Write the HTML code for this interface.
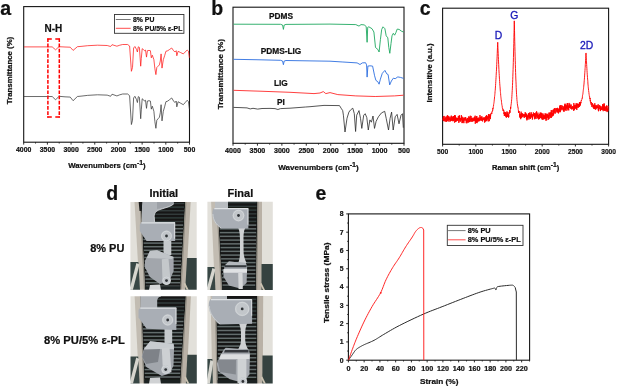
<!DOCTYPE html>
<html><head><meta charset="utf-8"><style>
html,body{margin:0;padding:0;background:#fff;}
body{width:617px;height:387px;overflow:hidden;}
svg{display:block;will-change:transform;}
text{font-family:"Liberation Sans",sans-serif;}
</style></head><body>
<svg width="617" height="387" viewBox="0 0 617 387">
<defs><filter id="soft" x="-10%" y="-10%" width="120%" height="120%"><feGaussianBlur stdDeviation="0.5"/></filter></defs>
<clipPath id="c1"><rect x="130.4" y="202" width="66.3" height="87.7"/></clipPath>
<g clip-path="url(#c1)"><g filter="url(#soft)">
<rect x="128.4" y="200" width="70.3" height="91.7" fill="#e2e0da"/>
<polygon points="140.1,200 185.9,200 180.8,291.7 144.7,291.7" fill="#131716"/>
<rect x="141.58" y="202.75" width="42.83" height="1.5" fill="#323a3a"/>
<rect x="141.76" y="206.35" width="42.45" height="1.5" fill="#323a3a"/>
<rect x="141.94" y="209.95" width="42.07" height="1.5" fill="#323a3a"/>
<rect x="142.12" y="213.55" width="41.69" height="1.5" fill="#323a3a"/>
<rect x="142.3" y="217.15" width="41.31" height="1.5" fill="#323a3a"/>
<rect x="142.48" y="220.75" width="40.93" height="1.5" fill="#323a3a"/>
<rect x="142.66" y="224.35" width="40.54" height="1.5" fill="#646c6c"/>
<rect x="142.84" y="227.95" width="40.16" height="1.5" fill="#646c6c"/>
<rect x="143.02" y="231.55" width="39.78" height="1.5" fill="#646c6c"/>
<rect x="143.2" y="235.15" width="39.4" height="1.5" fill="#646c6c"/>
<rect x="143.38" y="238.75" width="39.02" height="1.5" fill="#646c6c"/>
<rect x="143.56" y="242.35" width="38.64" height="1.5" fill="#646c6c"/>
<rect x="143.74" y="245.95" width="38.26" height="1.5" fill="#646c6c"/>
<rect x="143.92" y="249.55" width="37.88" height="1.5" fill="#646c6c"/>
<rect x="144.1" y="253.15" width="37.5" height="1.5" fill="#646c6c"/>
<rect x="144.28" y="256.75" width="37.12" height="1.5" fill="#646c6c"/>
<rect x="144.46" y="260.35" width="36.74" height="1.5" fill="#646c6c"/>
<rect x="144.65" y="263.95" width="36.36" height="1.5" fill="#646c6c"/>
<rect x="144.83" y="267.55" width="35.98" height="1.5" fill="#646c6c"/>
<rect x="145.01" y="271.15" width="35.59" height="1.5" fill="#646c6c"/>
<rect x="145.19" y="274.75" width="35.21" height="1.5" fill="#646c6c"/>
<rect x="145.37" y="278.35" width="34.83" height="1.5" fill="#646c6c"/>
<rect x="145.55" y="281.95" width="34.45" height="1.5" fill="#646c6c"/>
<rect x="145.73" y="285.55" width="34.07" height="1.5" fill="#646c6c"/>
<polygon points="134.4,200 140.6,200 145.2,291.7 139.6,291.7" fill="#c2bcb2"/>
<polygon points="139.5,200 140.6,200 145.2,291.7 144.1,291.7" fill="#8f8b82"/>
<polygon points="185.4,200 190.8,200 185.6,291.7 180.3,291.7" fill="#b9b1a6"/>
<polygon points="185.4,200 186.5,200 181.4,291.7 180.3,291.7" fill="#8e8a80"/>
<polygon points="128.4,262 138.42,262 140.1,291.7 128.4,291.7" fill="#394744"/>
<polygon points="136.42,263 139.42,264.5 132.9,289.7 129.4,289.7" fill="#d6d6cf"/>
<polygon points="187.01,258 198.7,258 198.7,291.7 185.1,291.7" fill="#34423f"/>
<polygon points="183.6,283.7 185.1,282.7 188.6,289.7 186.6,289.7" fill="#cbc3b2"/>
<rect x="145.2" y="286.2" width="35.1" height="4" fill="#1f2423"/>
<path d="M142 200 L173.6 200 L173.6 204 C171 206.5 166 207.5 160 209.5 C156 211 154.2 213 154.2 216.5 L154.6 222 L142 222 Z" fill="#b0b4b9"/>
<path d="M157 200 L173.6 200 L173.6 204 C171 206 166 207 160 208.5 L157 209 Z" fill="#9da1a7"/>
<path d="M173.6 204 C171 206.5 166 207.5 160 209.5 C156 211 154.2 213 154.2 216.5 L154.6 222" fill="none" stroke="#d0d3d6" stroke-width="0.9"/>
<path d="M138.5 200 L142.5 200 L141.5 211 L139.5 211 Z" fill="#1a1c1c"/>
<polygon points="163.5,238 171.3,238 171.3,255 163.5,255" fill="#c6cacd" />
<polygon points="149.9,250.9 157,250.3 173.6,256.9 173.6,271.1 170,279.4 160,284 149.9,277 144.5,266.4 145.1,260.4" fill="#a2a6ac" />
<polygon points="149.9,250.9 157,250.3 173.6,256.9 172,259 147,258" fill="#c0c4c8" />
<polygon points="161.8,259.3 168.5,258.5 170.5,280.6 162.5,281" fill="#c4c8cb" />
<circle cx="166.5" cy="280.6" r="4.4" fill="#c2c6ca"/><circle cx="166.5" cy="280.6" r="3.6" fill="none" stroke="#d6d9dc" stroke-width="0.8"/><circle cx="166.5" cy="280.6" r="1.4" fill="#2e3236"/>
<polygon points="150,285 160,284.5 161,290 149,290" fill="#d4d6d8" />
<polygon points="141.6,222.1 175.1,222.1 175.1,241 146.6,241 139.8,231 139.8,224.8" fill="#a9aeb5" /><path d="M141.5 222.8 L175 222.8" stroke="#dfe2e5" stroke-width="1.3"/><path d="M174.6 222.8 L174.6 238.8" stroke="#d4d7da" stroke-width="1.1"/>
<circle cx="166.5" cy="236" r="5.6" fill="#c2c6ca"/><circle cx="166.5" cy="236" r="4.8" fill="none" stroke="#d6d9dc" stroke-width="0.8"/><circle cx="166.5" cy="236" r="1.4" fill="#2e3236"/>
</g></g>
<clipPath id="c3"><rect x="130.5" y="296.3" width="66.3" height="87.1"/></clipPath>
<g clip-path="url(#c3)"><g filter="url(#soft)">
<rect x="128.5" y="294.3" width="70.3" height="91.1" fill="#e2e0da"/>
<polygon points="140.5,294.3 186.5,294.3 180.8,385.4 143.8,385.4" fill="#131716"/>
<rect x="141.98" y="298.55" width="42.91" height="1.5" fill="#323a3a"/>
<rect x="142.12" y="302.25" width="42.54" height="1.5" fill="#323a3a"/>
<rect x="142.25" y="305.95" width="42.17" height="1.5" fill="#323a3a"/>
<rect x="142.38" y="309.65" width="41.81" height="1.5" fill="#323a3a"/>
<rect x="142.52" y="313.35" width="41.44" height="1.5" fill="#323a3a"/>
<rect x="142.65" y="317.05" width="41.08" height="1.5" fill="#323a3a"/>
<rect x="142.79" y="320.75" width="40.71" height="1.5" fill="#646c6c"/>
<rect x="142.92" y="324.45" width="40.35" height="1.5" fill="#646c6c"/>
<rect x="143.05" y="328.15" width="39.98" height="1.5" fill="#646c6c"/>
<rect x="143.19" y="331.85" width="39.62" height="1.5" fill="#646c6c"/>
<rect x="143.32" y="335.55" width="39.25" height="1.5" fill="#646c6c"/>
<rect x="143.46" y="339.25" width="38.89" height="1.5" fill="#646c6c"/>
<rect x="143.59" y="342.95" width="38.52" height="1.5" fill="#646c6c"/>
<rect x="143.72" y="346.65" width="38.15" height="1.5" fill="#646c6c"/>
<rect x="143.86" y="350.35" width="37.79" height="1.5" fill="#646c6c"/>
<rect x="143.99" y="354.05" width="37.42" height="1.5" fill="#646c6c"/>
<rect x="144.13" y="357.75" width="37.06" height="1.5" fill="#646c6c"/>
<rect x="144.26" y="361.45" width="36.69" height="1.5" fill="#646c6c"/>
<rect x="144.39" y="365.15" width="36.33" height="1.5" fill="#646c6c"/>
<rect x="144.53" y="368.85" width="35.96" height="1.5" fill="#646c6c"/>
<rect x="144.66" y="372.55" width="35.6" height="1.5" fill="#646c6c"/>
<rect x="144.8" y="376.25" width="35.23" height="1.5" fill="#646c6c"/>
<rect x="144.93" y="379.95" width="34.86" height="1.5" fill="#646c6c"/>
<polygon points="134.5,294.3 141,294.3 144.3,385.4 139.2,385.4" fill="#c2bcb2"/>
<polygon points="139.9,294.3 141,294.3 144.3,385.4 143.2,385.4" fill="#8f8b82"/>
<polygon points="186,294.3 191,294.3 186.3,385.4 180.3,385.4" fill="#b9b1a6"/>
<polygon points="186,294.3 187.1,294.3 181.4,385.4 180.3,385.4" fill="#8e8a80"/>
<polygon points="128.5,356.6 138.21,356.6 139.7,385.4 128.5,385.4" fill="#394744"/>
<polygon points="136.21,357.6 139.21,359.1 133,383.4 129.5,383.4" fill="#d6d6cf"/>
<polygon points="187.38,354.7 198.8,354.7 198.8,385.4 185.8,385.4" fill="#34423f"/>
<polygon points="184.3,377.4 185.8,376.4 189.3,383.4 187.3,383.4" fill="#cbc3b2"/>
<rect x="144.3" y="379.9" width="36" height="4" fill="#1f2423"/>
<path d="M140.5 294 L161 294 L161 296.5 Q157.5 297 157.2 300.5 L157.2 309 L140.5 309 Z" fill="#b0b4b9"/>
<polygon points="164.5,326 172.2,326 172.2,343 164.5,343" fill="#c6cacd" />
<polygon points="150.2,341.2 173.5,343.8 174.1,346.3 173.5,365.7 169.6,373.5 161.8,376 146.3,367 141.8,356.7 143.8,348.9" fill="#a2a6ac" />
<polygon points="144,350 160,349 158,362 146,364 142.3,357" fill="#7e8288" />
<polygon points="150.2,341.2 173.5,343.8 174,349 144,349" fill="#c8ccd0" />
<polygon points="161.8,348.3 169.5,347.5 171.5,372.2 163,373" fill="#cdd0d3" />
<circle cx="165.7" cy="369.6" r="4.5" fill="#c2c6ca"/><circle cx="165.7" cy="369.6" r="3.7" fill="none" stroke="#d6d9dc" stroke-width="0.8"/><circle cx="165.7" cy="369.6" r="1.4" fill="#2e3236"/>
<polygon points="150,378 160,377.5 161,384 149,384" fill="#d0d2d4" />
<polygon points="140.4,307.4 176.4,307.4 176.4,330 146.6,328.7 138.5,317.6 138.5,310.1" fill="#a9aeb5" /><path d="M140.3 308.1 L176.2 308.1" stroke="#dfe2e5" stroke-width="1.3"/><path d="M175.9 308.1 L175.9 324.1" stroke="#d4d7da" stroke-width="1.1"/>
<circle cx="167.7" cy="320" r="5.7" fill="#c2c6ca"/><circle cx="167.7" cy="320" r="4.9" fill="none" stroke="#d6d9dc" stroke-width="0.8"/><circle cx="167.7" cy="320" r="1.4" fill="#2e3236"/>
</g></g>
<clipPath id="c2"><rect x="207.4" y="201.7" width="65.4" height="88.3"/></clipPath>
<g clip-path="url(#c2)"><g filter="url(#soft)">
<rect x="205.4" y="199.7" width="69.4" height="92.3" fill="#e2e0da"/>
<polygon points="216.8,199.7 258,199.7 256.5,292 221.5,292" fill="#131716"/>
<rect x="218.25" y="201.85" width="38.41" height="1.5" fill="#323a3a"/>
<rect x="218.44" y="205.6" width="38.15" height="1.5" fill="#323a3a"/>
<rect x="218.63" y="209.35" width="37.9" height="1.5" fill="#323a3a"/>
<rect x="218.82" y="213.1" width="37.65" height="1.5" fill="#323a3a"/>
<rect x="219.01" y="216.85" width="37.4" height="1.5" fill="#323a3a"/>
<rect x="219.2" y="220.6" width="37.15" height="1.5" fill="#323a3a"/>
<rect x="219.39" y="224.35" width="36.89" height="1.5" fill="#646c6c"/>
<rect x="219.58" y="228.1" width="36.64" height="1.5" fill="#646c6c"/>
<rect x="219.78" y="231.85" width="36.39" height="1.5" fill="#646c6c"/>
<rect x="219.97" y="235.6" width="36.14" height="1.5" fill="#646c6c"/>
<rect x="220.16" y="239.35" width="35.89" height="1.5" fill="#646c6c"/>
<rect x="220.35" y="243.1" width="35.63" height="1.5" fill="#646c6c"/>
<rect x="220.54" y="246.85" width="35.38" height="1.5" fill="#646c6c"/>
<rect x="220.73" y="250.6" width="35.13" height="1.5" fill="#646c6c"/>
<rect x="220.92" y="254.35" width="34.88" height="1.5" fill="#646c6c"/>
<rect x="221.11" y="258.1" width="34.63" height="1.5" fill="#646c6c"/>
<rect x="221.3" y="261.85" width="34.37" height="1.5" fill="#646c6c"/>
<rect x="221.49" y="265.6" width="34.12" height="1.5" fill="#646c6c"/>
<rect x="221.68" y="269.35" width="33.87" height="1.5" fill="#646c6c"/>
<rect x="221.88" y="273.1" width="33.62" height="1.5" fill="#646c6c"/>
<rect x="222.07" y="276.85" width="33.37" height="1.5" fill="#646c6c"/>
<rect x="222.26" y="280.6" width="33.12" height="1.5" fill="#646c6c"/>
<rect x="222.45" y="284.35" width="32.86" height="1.5" fill="#646c6c"/>
<rect x="222.64" y="288.1" width="32.61" height="1.5" fill="#646c6c"/>
<polygon points="211,199.7 217.3,199.7 222,292 215,292" fill="#c2bcb2"/>
<polygon points="216.2,199.7 217.3,199.7 222,292 220.9,292" fill="#8f8b82"/>
<polygon points="257.5,199.7 262,199.7 262,292 256,292" fill="#b9b1a6"/>
<polygon points="257.5,199.7 258.6,199.7 257.1,292 256,292" fill="#8e8a80"/>
<polygon points="205.4,267 214.42,267 215.5,292 205.4,292" fill="#394744"/>
<polygon points="212.42,268 215.42,269.5 209.9,290 206.4,290" fill="#d6d6cf"/>
<polygon points="261.5,264 274.8,264 274.8,292 261.5,292" fill="#34423f"/>
<polygon points="260,284 261.5,283 265,290 263,290" fill="#cbc3b2"/>
<rect x="222" y="286.5" width="34" height="4" fill="#1f2423"/>
<polygon points="215,199 228,199 228,208 215,208" fill="#b9bdc1" />
<path d="M238.3 228 L245.2 228 C243.8 231 243.5 234 243.5 240 L243.6 252 C243.8 257 245 259.5 246.5 263 L238.3 263 C239.5 259.5 240 257 240 252 L240 240 C240 234 239.5 231 238.3 228 Z" fill="#cfd1d3"/>
<polygon points="228.9,261.5 245.7,262.9 247.1,267.1 246.6,282.9 240.1,288.5 228.9,285.5 223.4,276.4 224.3,267.1" fill="#a4a8ae" />
<polygon points="228.9,261.5 245.7,262.9 246.5,265 225,265" fill="#b4b8bd" />
<polygon points="225,265.2 246.5,265.2 246.5,267.3 224.5,267.3" fill="#34383c" />
<polygon points="223.5,269 247,269 247,272.7 223.2,272.7" fill="#dfe1e3" />
<polygon points="238.2,272.7 242.5,272.7 242.8,289 238.6,289" fill="#d6d8da" />
<path d="M214.3 208 L248.4 208 L248.4 228.5 L221.1 228.5 C216 225 212.6 220 212.4 214 C212.4 210.5 213 208.5 214.3 208 Z" fill="#a9aeb5"/>
<path d="M214.3 208.7 L248.2 208.7" stroke="#dfe2e5" stroke-width="1.3"/><path d="M247.9 208.7 L247.9 224.7" stroke="#d4d7da" stroke-width="1.1"/>
<path d="M221.1 228 C216 224.5 213 220 212.9 214" fill="none" stroke="#cfd2d5" stroke-width="0.9"/>
<circle cx="238.5" cy="215.5" r="6" fill="#c2c6ca"/><circle cx="238.5" cy="215.5" r="5.2" fill="none" stroke="#d6d9dc" stroke-width="0.8"/><circle cx="238.5" cy="215.5" r="1.4" fill="#2e3236"/>
</g></g>
<clipPath id="c4"><rect x="207.4" y="296" width="65.3" height="87.4"/></clipPath>
<g clip-path="url(#c4)"><g filter="url(#soft)">
<rect x="205.4" y="294" width="69.3" height="91.4" fill="#e2e0da"/>
<polygon points="215.3,294 257.7,294 257.6,385.4 217.1,385.4" fill="#131716"/>
<rect x="216.7" y="298.55" width="39.69" height="1.5" fill="#323a3a"/>
<rect x="216.78" y="302.45" width="39.61" height="1.5" fill="#323a3a"/>
<rect x="216.86" y="306.35" width="39.53" height="1.5" fill="#323a3a"/>
<rect x="216.93" y="310.25" width="39.45" height="1.5" fill="#323a3a"/>
<rect x="217.01" y="314.15" width="39.37" height="1.5" fill="#323a3a"/>
<rect x="217.09" y="318.05" width="39.28" height="1.5" fill="#646c6c"/>
<rect x="217.17" y="321.95" width="39.2" height="1.5" fill="#646c6c"/>
<rect x="217.24" y="325.85" width="39.12" height="1.5" fill="#646c6c"/>
<rect x="217.32" y="329.75" width="39.04" height="1.5" fill="#646c6c"/>
<rect x="217.4" y="333.65" width="38.96" height="1.5" fill="#646c6c"/>
<rect x="217.47" y="337.55" width="38.88" height="1.5" fill="#646c6c"/>
<rect x="217.55" y="341.45" width="38.8" height="1.5" fill="#646c6c"/>
<rect x="217.63" y="345.35" width="38.72" height="1.5" fill="#646c6c"/>
<rect x="217.7" y="349.25" width="38.64" height="1.5" fill="#646c6c"/>
<rect x="217.78" y="353.15" width="38.55" height="1.5" fill="#646c6c"/>
<rect x="217.86" y="357.05" width="38.47" height="1.5" fill="#646c6c"/>
<rect x="217.93" y="360.95" width="38.39" height="1.5" fill="#646c6c"/>
<rect x="218.01" y="364.85" width="38.31" height="1.5" fill="#646c6c"/>
<rect x="218.09" y="368.75" width="38.23" height="1.5" fill="#646c6c"/>
<rect x="218.16" y="372.65" width="38.15" height="1.5" fill="#646c6c"/>
<rect x="218.24" y="376.55" width="38.07" height="1.5" fill="#646c6c"/>
<rect x="218.32" y="380.45" width="37.99" height="1.5" fill="#646c6c"/>
<polygon points="210.5,294 215.8,294 217.6,385.4 212.4,385.4" fill="#c2bcb2"/>
<polygon points="214.7,294 215.8,294 217.6,385.4 216.5,385.4" fill="#8f8b82"/>
<polygon points="257.2,294 263.2,294 262.8,385.4 257.1,385.4" fill="#b9b1a6"/>
<polygon points="257.2,294 258.3,294 258.2,385.4 257.1,385.4" fill="#8e8a80"/>
<polygon points="205.4,359.1 212.35,359.1 212.9,385.4 205.4,385.4" fill="#394744"/>
<polygon points="210.35,360.1 213.35,361.6 209.9,383.4 206.4,383.4" fill="#d6d6cf"/>
<polygon points="262.43,355.4 274.7,355.4 274.7,385.4 262.3,385.4" fill="#34423f"/>
<polygon points="260.8,377.4 262.3,376.4 265.8,383.4 263.8,383.4" fill="#cbc3b2"/>
<rect x="217.6" y="379.9" width="39.5" height="4" fill="#1f2423"/>
<polygon points="212,294 227,294 227,300 212,300" fill="#b9bdc1" />
<path d="M238.8 323 L247.3 323 C245.6 327 245.2 330 245.2 334 L245.2 340 C245.4 344 246.5 346.5 248.2 349.5 L238 349.5 C239.8 346.5 241 344 241 340 L241 334 C241 330 240.5 327 238.8 323 Z" fill="#cfd1d3"/>
<polygon points="225.7,347.7 248.8,349.5 250,354.3 249.4,374.4 242.9,382.8 229.8,379.2 217.9,370.9 216.8,363.8 219.1,357.8 223.9,349.5" fill="#a4a8ae" />
<polygon points="217.5,360 236,360 235.8,374.4 220,372" fill="#84888e" />
<polygon points="225,350 248.5,350 248.5,352.5 224,352.5" fill="#34383c" />
<polygon points="221,354.3 249.5,354.3 249.5,359 219.5,359" fill="#dcdee0" />
<polygon points="237.5,359 246.4,359 246.4,383 237.5,383" fill="#cfd2d4" />
<circle cx="242.9" cy="381.5" r="4.3" fill="#c2c6ca"/><circle cx="242.9" cy="381.5" r="3.5" fill="none" stroke="#d6d9dc" stroke-width="0.8"/><circle cx="242.9" cy="381.5" r="1.4" fill="#2e3236"/>
<path d="M211.2 299 L252.1 299 L252.1 323.8 L219.9 324.4 C214 320 209 313 208.7 306 C208.7 302 209.5 299.5 211.2 299 Z" fill="#a9aeb5"/>
<path d="M211 299.7 L251.9 299.7" stroke="#dfe2e5" stroke-width="1.3"/><path d="M251.6 299.7 L251.6 315.7" stroke="#d4d7da" stroke-width="1.1"/>
<path d="M219.9 323.9 C214 319.5 209.5 313 209.2 306" fill="none" stroke="#cfd2d5" stroke-width="0.9"/>
<circle cx="242.2" cy="308.9" r="7.3" fill="#c2c6ca"/><circle cx="242.2" cy="308.9" r="6.5" fill="none" stroke="#d6d9dc" stroke-width="0.8"/><circle cx="242.2" cy="308.9" r="1.4" fill="#2e3236"/>
</g></g>
<rect x="23.7" y="6.6" width="165.8" height="135.6" fill="none" stroke="#151515" stroke-width="1.1"/>
<line x1="23.7" y1="142.2" x2="23.7" y2="144.6" stroke="#151515" stroke-width="0.9"/>
<text transform="translate(23.7 152.4)" font-size="6.9" font-weight="bold" text-anchor="middle" fill="#111"  stroke="#111" stroke-width="0.22">4000</text>
<line x1="35.54" y1="142.2" x2="35.54" y2="143.6" stroke="#151515" stroke-width="0.8"/>
<line x1="47.39" y1="142.2" x2="47.39" y2="144.6" stroke="#151515" stroke-width="0.9"/>
<text transform="translate(47.39 152.4)" font-size="6.9" font-weight="bold" text-anchor="middle" fill="#111"  stroke="#111" stroke-width="0.22">3500</text>
<line x1="59.23" y1="142.2" x2="59.23" y2="143.6" stroke="#151515" stroke-width="0.8"/>
<line x1="71.07" y1="142.2" x2="71.07" y2="144.6" stroke="#151515" stroke-width="0.9"/>
<text transform="translate(71.07 152.4)" font-size="6.9" font-weight="bold" text-anchor="middle" fill="#111"  stroke="#111" stroke-width="0.22">3000</text>
<line x1="82.91" y1="142.2" x2="82.91" y2="143.6" stroke="#151515" stroke-width="0.8"/>
<line x1="94.76" y1="142.2" x2="94.76" y2="144.6" stroke="#151515" stroke-width="0.9"/>
<text transform="translate(94.76 152.4)" font-size="6.9" font-weight="bold" text-anchor="middle" fill="#111"  stroke="#111" stroke-width="0.22">2500</text>
<line x1="106.6" y1="142.2" x2="106.6" y2="143.6" stroke="#151515" stroke-width="0.8"/>
<line x1="118.44" y1="142.2" x2="118.44" y2="144.6" stroke="#151515" stroke-width="0.9"/>
<text transform="translate(118.44 152.4)" font-size="6.9" font-weight="bold" text-anchor="middle" fill="#111"  stroke="#111" stroke-width="0.22">2000</text>
<line x1="130.29" y1="142.2" x2="130.29" y2="143.6" stroke="#151515" stroke-width="0.8"/>
<line x1="142.13" y1="142.2" x2="142.13" y2="144.6" stroke="#151515" stroke-width="0.9"/>
<text transform="translate(142.13 152.4)" font-size="6.9" font-weight="bold" text-anchor="middle" fill="#111"  stroke="#111" stroke-width="0.22">1500</text>
<line x1="153.97" y1="142.2" x2="153.97" y2="143.6" stroke="#151515" stroke-width="0.8"/>
<line x1="165.81" y1="142.2" x2="165.81" y2="144.6" stroke="#151515" stroke-width="0.9"/>
<text transform="translate(165.81 152.4)" font-size="6.9" font-weight="bold" text-anchor="middle" fill="#111"  stroke="#111" stroke-width="0.22">1000</text>
<line x1="177.66" y1="142.2" x2="177.66" y2="143.6" stroke="#151515" stroke-width="0.8"/>
<line x1="189.5" y1="142.2" x2="189.5" y2="144.6" stroke="#151515" stroke-width="0.9"/>
<text transform="translate(189.5 152.4)" font-size="6.9" font-weight="bold" text-anchor="middle" fill="#111"  stroke="#111" stroke-width="0.22">500</text>
<text transform="translate(106.9 167.8) scale(1.05 1)" font-size="7.4" font-weight="bold" text-anchor="middle" fill="#111"  stroke="#111" stroke-width="0.22">Wavenumbers (cm<tspan font-size="6.6" dy="-3.2">-1</tspan><tspan dy="3.2">)</tspan></text>
<text transform="translate(12.4 70.5) rotate(-90) scale(1.06 1)" font-size="7.4" font-weight="bold" text-anchor="middle" fill="#111"  stroke="#111" stroke-width="0.22">Transmittance (%)</text>
<path d="M24 96.52 L35 96.52 L45 96.52 L52.2 96.52 L55.6 99.83 L59 96.3 L65 96.84 L70.2 97.07 L73.1 100.71 L77.4 96.5 L82 96.04 L87.7 95.36 L97.5 94.79 L107.2 95.13 L110.6 96.27 L112 94.22 L116.9 95.93 L119.8 94.79 L122.7 93.99 L127.6 93.99 L129.6 95.7 L131.4 124.54 L132.5 120.21 L133.6 97.98 L134.9 96.27 L136.5 99.57 L137.4 102.54 L138.3 96.61 L139.4 97.29 L140.7 118.73 L141.3 109.83 L142.2 98.78 L143.3 99.57 L144.5 101.06 L145.5 100.26 L146.5 108.35 L147.4 101.06 L149 100.71 L150.4 101.06 L151.3 109.15 L152.3 106.19 L153.9 111.32 L154.9 121.69 L155.9 128.3 L156.8 120.21 L158.1 118.73 L159.4 117.24 L160.3 112.8 L161.1 104.7 L162 120.89 L163.3 111.32 L164.6 106.87 L165.9 101.74 L167.8 101.06 L169.7 99.57 L171.7 97.98 L173.6 101.06 L174.9 102.54 L176.2 101.06 L176.8 106.87 L178.1 101.74 L180.7 103.22 L183.3 104.7 L185.2 102.54 L187.2 100.26 L188.5 101.74 L189.4 109.15" fill="none" stroke="#3a3a3a" stroke-width="0.75" stroke-linejoin="round" />
<path d="M24 46.9 L35 46.9 L45 46.9 L52.2 46.9 L55.6 49.8 L59 46.7 L65 47 L70.2 47.2 L73.1 50.4 L77.4 46.7 L82 46.3 L87.7 45.7 L97.5 45.2 L107.2 45.5 L110.6 46.5 L112 44.7 L116.9 46.2 L119.8 45.2 L122.7 44.5 L127.6 44.5 L129.6 46 L131.4 71.3 L132.5 67.5 L133.6 48 L134.9 46.5 L136.5 49.4 L137.4 52 L138.3 46.8 L139.4 47.4 L140.7 66.2 L141.3 58.4 L142.2 48.7 L143.3 49.4 L144.5 50.7 L145.5 50 L146.5 57.1 L147.4 50.7 L149 50.4 L150.4 50.7 L151.3 57.8 L152.3 55.2 L153.9 59.7 L154.9 68.8 L155.9 74.6 L156.8 67.5 L158.1 66.2 L159.4 64.9 L160.3 61 L161.1 53.9 L162 68.1 L163.3 59.7 L164.6 55.8 L165.9 51.3 L167.8 50.7 L169.7 49.4 L171.7 48 L173.6 50.7 L174.9 52 L176.2 50.7 L176.8 55.8 L178.1 51.3 L180.7 52.6 L183.3 53.9 L185.2 52 L187.2 50 L188.5 51.3 L189.4 57.8" fill="none" stroke="#ff1a1a" stroke-width="0.75" stroke-linejoin="round" />
<rect x="114.5" y="14.5" width="69.4" height="18.8" fill="none" stroke="#333" stroke-width="0.9"/>
<line x1="115.8" y1="19.5" x2="130.7" y2="19.5" stroke="#555" stroke-width="0.8"/>
<line x1="115.8" y1="28.3" x2="130.7" y2="28.3" stroke="#ff2020" stroke-width="0.8"/>
<text transform="translate(133 22.4) scale(0.94 1)" font-size="7.3" font-weight="bold" text-anchor="start" fill="#111"  stroke="#111" stroke-width="0.22">8% PU</text>
<text transform="translate(133 31.2) scale(0.94 1)" font-size="7.3" font-weight="bold" text-anchor="start" fill="#111"  stroke="#111" stroke-width="0.22">8% PU/5% &#949;-PL</text>
<text transform="translate(53.4 31.8) scale(0.97 1)" font-size="10.3" font-weight="bold" text-anchor="middle" fill="#111"  stroke="#111" stroke-width="0.22">N-H</text>
<line x1="47.2" y1="39.1" x2="60" y2="39.1" stroke="#ff0000" stroke-width="1.5" stroke-dasharray="4.6 3.5"/>
<line x1="47.2" y1="116.9" x2="60" y2="116.9" stroke="#ff0000" stroke-width="1.5" stroke-dasharray="4.6 3.5"/>
<line x1="47.9" y1="38.4" x2="47.9" y2="117.6" stroke="#ff0000" stroke-width="1.5" stroke-dasharray="3.7 1.5"/>
<line x1="59.3" y1="38.4" x2="59.3" y2="117.6" stroke="#ff0000" stroke-width="1.5" stroke-dasharray="3.7 1.5"/>
<rect x="233" y="7.2" width="171" height="136.1" fill="none" stroke="#151515" stroke-width="1.1"/>
<line x1="233" y1="143.3" x2="233" y2="145.7" stroke="#151515" stroke-width="0.9"/>
<text transform="translate(233 153.1)" font-size="7.1" font-weight="bold" text-anchor="middle" fill="#111"  stroke="#111" stroke-width="0.22">4000</text>
<line x1="245.21" y1="143.3" x2="245.21" y2="144.7" stroke="#151515" stroke-width="0.8"/>
<line x1="257.43" y1="143.3" x2="257.43" y2="145.7" stroke="#151515" stroke-width="0.9"/>
<text transform="translate(257.43 153.1)" font-size="7.1" font-weight="bold" text-anchor="middle" fill="#111"  stroke="#111" stroke-width="0.22">3500</text>
<line x1="269.64" y1="143.3" x2="269.64" y2="144.7" stroke="#151515" stroke-width="0.8"/>
<line x1="281.86" y1="143.3" x2="281.86" y2="145.7" stroke="#151515" stroke-width="0.9"/>
<text transform="translate(281.86 153.1)" font-size="7.1" font-weight="bold" text-anchor="middle" fill="#111"  stroke="#111" stroke-width="0.22">3000</text>
<line x1="294.07" y1="143.3" x2="294.07" y2="144.7" stroke="#151515" stroke-width="0.8"/>
<line x1="306.29" y1="143.3" x2="306.29" y2="145.7" stroke="#151515" stroke-width="0.9"/>
<text transform="translate(306.29 153.1)" font-size="7.1" font-weight="bold" text-anchor="middle" fill="#111"  stroke="#111" stroke-width="0.22">2500</text>
<line x1="318.5" y1="143.3" x2="318.5" y2="144.7" stroke="#151515" stroke-width="0.8"/>
<line x1="330.71" y1="143.3" x2="330.71" y2="145.7" stroke="#151515" stroke-width="0.9"/>
<text transform="translate(330.71 153.1)" font-size="7.1" font-weight="bold" text-anchor="middle" fill="#111"  stroke="#111" stroke-width="0.22">2000</text>
<line x1="342.93" y1="143.3" x2="342.93" y2="144.7" stroke="#151515" stroke-width="0.8"/>
<line x1="355.14" y1="143.3" x2="355.14" y2="145.7" stroke="#151515" stroke-width="0.9"/>
<text transform="translate(355.14 153.1)" font-size="7.1" font-weight="bold" text-anchor="middle" fill="#111"  stroke="#111" stroke-width="0.22">1500</text>
<line x1="367.36" y1="143.3" x2="367.36" y2="144.7" stroke="#151515" stroke-width="0.8"/>
<line x1="379.57" y1="143.3" x2="379.57" y2="145.7" stroke="#151515" stroke-width="0.9"/>
<text transform="translate(379.57 153.1)" font-size="7.1" font-weight="bold" text-anchor="middle" fill="#111"  stroke="#111" stroke-width="0.22">1000</text>
<line x1="391.79" y1="143.3" x2="391.79" y2="144.7" stroke="#151515" stroke-width="0.8"/>
<line x1="404" y1="143.3" x2="404" y2="145.7" stroke="#151515" stroke-width="0.9"/>
<text transform="translate(404 153.1)" font-size="7.1" font-weight="bold" text-anchor="middle" fill="#111"  stroke="#111" stroke-width="0.22">500</text>
<text transform="translate(318.5 169.8) scale(1.05 1)" font-size="7.7" font-weight="bold" text-anchor="middle" fill="#111"  stroke="#111" stroke-width="0.22">Wavenumbers (cm<tspan font-size="6.8" dy="-3.3">-1</tspan><tspan dy="3.3">)</tspan></text>
<text transform="translate(222.5 74.2) rotate(-90) scale(1.06 1)" font-size="7.7" font-weight="bold" text-anchor="middle" fill="#111"  stroke="#111" stroke-width="0.22">Transmittance (%)</text>
<path d="M233.5 107.4 L240 107.6 L247 107.9 L250.2 108.9 L253 108.3 L257.7 109.1 L262 108.5 L270 108.4 L275 108.6 L277.9 109.5 L280.5 108.6 L290 108.2 L305.6 107 L310 106.7 L324 105.4 L339.5 105.6 L341.1 108.2 L342.7 110.6 L343.4 115.2 L345 132 L347 118.3 L348.9 112.1 L350.7 109.8 L352.8 108.2 L354.3 113.7 L355.6 131.5 L356.7 115.2 L359 110.6 L360.5 118.3 L361.8 128.4 L363.7 115.2 L365.2 113.7 L366.8 117.6 L368.3 130 L369.9 119.9 L371.4 122.2 L373 116 L374.5 128.4 L376.1 121.4 L378.4 116.8 L381.5 112.9 L384.7 111.3 L386.2 118.3 L388.5 130 L390.1 118.3 L391.6 112.1 L393.2 130 L395.2 116.8 L397.1 114.4 L399 123.8 L401 115.2 L402.5 113.7 L403.3 127.7" fill="none" stroke="#2a2a2a" stroke-width="0.8" stroke-linejoin="round" />
<path d="M233.5 90.3 L260 91.2 L290 92.3 L314 93.6 L320 93 L323.3 91.6 L325.8 93.6 L330 92.6 L337.8 94.6 L355.8 95.9 L375.2 96.5 L394.6 95.9 L403.6 95.2" fill="none" stroke="#ff2a2a" stroke-width="0.9" stroke-linejoin="round" />
<path d="M233.5 59.3 L260 59.8 L280.5 60.3 L282.6 61 L283.4 64.7 L284.2 61 L286 60.5 L330 61.2 L342.9 62 L357.1 62.9 L360 64.5 L362.3 62.9 L365.5 62.7 L366.6 64.9 L367.1 77.1 L367.9 66.1 L370 65.8 L372.6 66.1 L374.6 75.8 L375.9 80.4 L377.8 81.7 L379.1 84.2 L380.4 79.1 L382.3 73.3 L384.9 70.4 L386.8 73.9 L388.1 74.5 L389.7 84.9 L391.4 81 L393.3 78.2 L395.2 78.7 L397.8 76.9 L400.4 77.4 L403.6 78.4" fill="none" stroke="#2c6ee0" stroke-width="0.9" stroke-linejoin="round" />
<path d="M233.5 24.2 L280.5 24.3 L282.6 25 L283.4 29.4 L284.2 25 L286 24.4 L330 24.1 L355.8 24.6 L359 26.1 L361 24.6 L364.2 24.9 L366.2 26.5 L367.1 42.3 L367.7 27.4 L368.8 26.8 L372 28.7 L373.9 32 L375.5 47.5 L377.8 49.4 L379.1 52 L380.4 39.7 L381.7 29.4 L383 26.8 L384.9 28.7 L386.2 35.8 L387.8 37.8 L388.8 47.5 L389.8 53.3 L391 43.6 L392 35.8 L393.3 33.3 L394.6 35.2 L395.9 32.6 L397.2 29.1 L399.1 29.4 L401.7 31.3 L403.6 32" fill="none" stroke="#1fa860" stroke-width="0.9" stroke-linejoin="round" />
<text transform="translate(281 19.3)" font-size="8.3" font-weight="bold" text-anchor="middle" fill="#111"  stroke="#111" stroke-width="0.22">PDMS</text>
<text transform="translate(281 54.1)" font-size="8.3" font-weight="bold" text-anchor="middle" fill="#111"  stroke="#111" stroke-width="0.22">PDMS-LIG</text>
<text transform="translate(280.8 86.4)" font-size="8.3" font-weight="bold" text-anchor="middle" fill="#111"  stroke="#111" stroke-width="0.22">LIG</text>
<text transform="translate(280.8 105.4)" font-size="8.3" font-weight="bold" text-anchor="middle" fill="#111"  stroke="#111" stroke-width="0.22">PI</text>
<rect x="442.6" y="8.2" width="166" height="136.1" fill="none" stroke="#151515" stroke-width="1.1"/>
<line x1="442.6" y1="144.3" x2="442.6" y2="146.5" stroke="#151515" stroke-width="0.9"/>
<text transform="translate(442.6 154.2) scale(1.03 1)" font-size="6.5" font-weight="bold" text-anchor="middle" fill="#111"  stroke="#111" stroke-width="0.16">500</text>
<line x1="459.2" y1="144.3" x2="459.2" y2="145.6" stroke="#151515" stroke-width="0.8"/>
<line x1="475.8" y1="144.3" x2="475.8" y2="146.5" stroke="#151515" stroke-width="0.9"/>
<text transform="translate(475.8 154.2) scale(1.03 1)" font-size="6.5" font-weight="bold" text-anchor="middle" fill="#111"  stroke="#111" stroke-width="0.16">1000</text>
<line x1="492.4" y1="144.3" x2="492.4" y2="145.6" stroke="#151515" stroke-width="0.8"/>
<line x1="509" y1="144.3" x2="509" y2="146.5" stroke="#151515" stroke-width="0.9"/>
<text transform="translate(509 154.2) scale(1.03 1)" font-size="6.5" font-weight="bold" text-anchor="middle" fill="#111"  stroke="#111" stroke-width="0.16">1500</text>
<line x1="525.6" y1="144.3" x2="525.6" y2="145.6" stroke="#151515" stroke-width="0.8"/>
<line x1="542.2" y1="144.3" x2="542.2" y2="146.5" stroke="#151515" stroke-width="0.9"/>
<text transform="translate(542.2 154.2) scale(1.03 1)" font-size="6.5" font-weight="bold" text-anchor="middle" fill="#111"  stroke="#111" stroke-width="0.16">2000</text>
<line x1="558.8" y1="144.3" x2="558.8" y2="145.6" stroke="#151515" stroke-width="0.8"/>
<line x1="575.4" y1="144.3" x2="575.4" y2="146.5" stroke="#151515" stroke-width="0.9"/>
<text transform="translate(575.4 154.2) scale(1.03 1)" font-size="6.5" font-weight="bold" text-anchor="middle" fill="#111"  stroke="#111" stroke-width="0.16">2500</text>
<line x1="592" y1="144.3" x2="592" y2="145.6" stroke="#151515" stroke-width="0.8"/>
<line x1="608.6" y1="144.3" x2="608.6" y2="146.5" stroke="#151515" stroke-width="0.9"/>
<text transform="translate(608.6 154.2) scale(1.03 1)" font-size="6.5" font-weight="bold" text-anchor="middle" fill="#111"  stroke="#111" stroke-width="0.16">3000</text>
<text transform="translate(525.6 170) scale(1.05 1)" font-size="7.2" font-weight="bold" text-anchor="middle" fill="#111"  stroke="#111" stroke-width="0.22">Raman shift (cm<tspan font-size="6.4" dy="-3.1">-1</tspan><tspan dy="3.1">)</tspan></text>
<text transform="translate(432.2 72.9) rotate(-90) scale(1.11 1)" font-size="7" font-weight="bold" text-anchor="middle" fill="#111"  stroke="#111" stroke-width="0.22">Intensitive (a.u.)</text>
<path d="M443 118.73 L443.12 120.14 L443.24 117.48 L443.36 118.8 L443.48 121.11 L443.6 119.65 L443.72 116.11 L443.84 120.77 L443.96 116.05 L444.08 115.96 L444.2 119.75 L444.32 119.09 L444.44 119.75 L444.56 119.9 L444.68 120.2 L444.8 121.38 L444.92 118.53 L445.04 118.97 L445.16 118.34 L445.28 117.39 L445.4 117.67 L445.52 119.61 L445.64 119.25 L445.76 121.57 L445.88 118.96 L446 117.64 L446.12 116.44 L446.24 120.68 L446.36 121.81 L446.48 119.81 L446.6 120.28 L446.72 118.01 L446.84 117.35 L446.96 118.15 L447.08 116.44 L447.2 119.57 L447.32 115.61 L447.44 115.13 L447.56 119.26 L447.68 120.93 L447.8 117.82 L447.92 119.17 L448.04 115.81 L448.16 121.58 L448.28 117.9 L448.4 119.97 L448.52 116.35 L448.64 118.21 L448.76 118.12 L448.88 120.02 L449 118.94 L449.12 118.86 L449.24 118.89 L449.36 120.11 L449.48 118.69 L449.6 119.96 L449.72 117.38 L449.84 116.58 L449.96 121.75 L450.08 118.25 L450.2 117.41 L450.32 120.39 L450.44 121.06 L450.56 118.88 L450.68 120.99 L450.8 120.51 L450.92 118.53 L451.04 118.6 L451.16 116 L451.28 115.61 L451.4 120.66 L451.52 120.48 L451.64 118.66 L451.76 120.01 L451.88 116.24 L452 119.43 L452.12 120.72 L452.24 118.53 L452.36 119.12 L452.48 117.49 L452.6 120.3 L452.72 117.19 L452.84 119.43 L452.96 121.31 L453.08 116.56 L453.2 116.9 L453.32 119.15 L453.44 120.89 L453.56 116.03 L453.68 119.16 L453.8 117.82 L453.92 119.23 L454.04 120.08 L454.16 116.25 L454.28 119.76 L454.4 119.43 L454.52 115.01 L454.64 122.69 L454.76 121.35 L454.88 120.38 L455 119 L455.12 116.89 L455.24 117.36 L455.36 121.89 L455.48 115.36 L455.6 121.61 L455.72 119.75 L455.84 119.77 L455.96 121.12 L456.08 121.77 L456.2 117.65 L456.32 118.36 L456.44 120.83 L456.56 118.23 L456.68 119.37 L456.8 120.4 L456.92 117.81 L457.04 118.3 L457.16 120.5 L457.28 118.12 L457.4 120.64 L457.52 117.95 L457.64 119.89 L457.76 118.6 L457.88 119.23 L458 118.02 L458.12 119.54 L458.24 119.51 L458.36 115.88 L458.48 119.42 L458.6 119.26 L458.72 119.58 L458.84 122.93 L458.96 119.76 L459.08 121.57 L459.2 118.66 L459.32 115.73 L459.44 118.91 L459.56 115.35 L459.68 118.54 L459.8 120.06 L459.92 118.32 L460.04 117.84 L460.16 120.11 L460.28 119.46 L460.4 120.63 L460.52 121.57 L460.64 118.12 L460.76 120.46 L460.88 120.69 L461 119.94 L461.12 118.39 L461.24 117.51 L461.36 115.12 L461.48 118.62 L461.6 119.76 L461.72 116.34 L461.84 119.87 L461.96 117.8 L462.08 123.13 L462.2 119.64 L462.32 122.89 L462.44 120.11 L462.56 118.49 L462.68 120.77 L462.8 116.9 L462.92 116.98 L463.04 118.64 L463.16 118.55 L463.28 122.42 L463.4 119.12 L463.52 119.5 L463.64 118.14 L463.76 118.34 L463.88 123.17 L464 119.6 L464.12 118.77 L464.24 118.79 L464.36 120.59 L464.48 118.9 L464.6 117.61 L464.72 117.54 L464.84 118.49 L464.96 117.89 L465.08 119.54 L465.2 119.27 L465.32 117.81 L465.44 119.07 L465.56 117.61 L465.68 117.01 L465.8 120.76 L465.92 118.91 L466.04 120.42 L466.16 122.84 L466.28 123.21 L466.4 121.23 L466.52 121.79 L466.64 120.15 L466.76 121.68 L466.88 118.77 L467 123.23 L467.12 120.57 L467.24 117.9 L467.36 118.83 L467.48 119.18 L467.6 119.3 L467.72 118 L467.84 122.35 L467.96 120.76 L468.08 121.18 L468.2 118.71 L468.32 118.68 L468.44 121.44 L468.56 122.49 L468.68 119.52 L468.8 116.32 L468.92 118.5 L469.04 118.56 L469.16 117.31 L469.28 119.11 L469.4 121.88 L469.52 117.61 L469.64 122.08 L469.76 119.56 L469.88 121.83 L470 118.56 L470.12 116.23 L470.24 115.73 L470.36 119.63 L470.48 119.4 L470.6 119.12 L470.72 121.33 L470.84 119.95 L470.96 118.81 L471.08 115.98 L471.2 119.84 L471.32 119.34 L471.44 117.95 L471.56 119.7 L471.68 118.67 L471.8 121.78 L471.92 120.03 L472.04 117.95 L472.16 121.61 L472.28 120.68 L472.4 120.84 L472.52 120.31 L472.64 120.01 L472.76 118.79 L472.88 121.27 L473 117.72 L473.12 118.76 L473.24 119.06 L473.36 119.95 L473.48 121.06 L473.6 119.16 L473.72 119.94 L473.84 119.58 L473.96 117.62 L474.08 121.16 L474.2 120.55 L474.32 120.35 L474.44 118.35 L474.56 119.87 L474.68 116.73 L474.8 120.86 L474.92 120.39 L475.04 120.33 L475.16 115.66 L475.28 123.8 L475.4 120.87 L475.52 119.9 L475.64 121.94 L475.76 117.76 L475.88 121.75 L476 120.03 L476.12 121.1 L476.24 118.79 L476.36 122.9 L476.48 117.24 L476.6 116.33 L476.72 118.24 L476.84 116.19 L476.96 120.07 L477.08 123.13 L477.2 120.41 L477.32 118.26 L477.44 120.41 L477.56 118.94 L477.68 121.81 L477.8 118.22 L477.92 119.79 L478.04 120.9 L478.16 117.89 L478.28 121.11 L478.4 119.04 L478.52 120.51 L478.64 119.99 L478.76 118.95 L478.88 121.47 L479 117.44 L479.12 120.06 L479.24 118.71 L479.36 119.62 L479.48 120.59 L479.6 120.6 L479.72 119.35 L479.84 120.47 L479.96 115.04 L480.08 120.56 L480.2 119.49 L480.32 119.09 L480.44 119.95 L480.56 119.42 L480.68 116.96 L480.8 118.64 L480.92 119.17 L481.04 120.04 L481.16 120.3 L481.28 116.43 L481.4 119.77 L481.52 120.6 L481.64 118.01 L481.76 117.72 L481.88 117.08 L482 116.79 L482.12 116.53 L482.24 118.56 L482.36 118.71 L482.48 118.75 L482.6 121.46 L482.72 118.22 L482.84 119.02 L482.96 120.25 L483.08 118.73 L483.2 119.21 L483.32 117.6 L483.44 119.51 L483.56 118.89 L483.68 119.28 L483.8 118.29 L483.92 117.67 L484.04 117.53 L484.16 118.72 L484.28 119.31 L484.4 117.53 L484.52 117.46 L484.64 122.65 L484.76 119 L484.88 120.54 L485 119.75 L485.12 120.08 L485.24 118.99 L485.36 119.06 L485.48 121.6 L485.6 116.31 L485.72 120.01 L485.84 117.84 L485.96 118.48 L486.08 118 L486.2 117.3 L486.32 121.18 L486.44 115.1 L486.56 120.15 L486.68 116.09 L486.8 120.39 L486.92 120.64 L487.04 119.68 L487.16 116.71 L487.28 118.67 L487.4 117.21 L487.52 117.09 L487.64 116.63 L487.76 119.35 L487.88 118.14 L488 118.46 L488.12 115.63 L488.24 121.45 L488.36 116.25 L488.48 114.02 L488.6 115.02 L488.72 115.76 L488.84 117.78 L488.96 116.62 L489.08 117.73 L489.2 114.28 L489.32 121.15 L489.44 118.37 L489.56 115.73 L489.68 115.85 L489.8 116.75 L489.92 115.87 L490.04 116.36 L490.16 116.77 L490.28 114.1 L490.4 119.12 L490.52 115.65 L490.64 116.13 L490.76 114.94 L490.88 113.64 L491 113.4 L491.12 113.29 L491.24 114.08 L491.36 113.6 L491.48 112.78 L491.6 113.11 L491.72 113.29 L491.84 113.78 L491.96 111.75 L492.08 111.79 L492.2 111.12 L492.32 111.38 L492.44 111.37 L492.56 110.48 L492.68 110.89 L492.8 108.22 L492.92 109.21 L493.04 108.57 L493.16 108.11 L493.28 106.91 L493.4 106.33 L493.52 106.11 L493.64 104.54 L493.76 103.82 L493.88 103.29 L494 102.4 L494.12 101.54 L494.24 100.13 L494.36 99.14 L494.48 98.02 L494.6 96.63 L494.72 95.71 L494.84 94.57 L494.96 93.3 L495.08 91.47 L495.2 90.68 L495.32 88.95 L495.44 87.03 L495.56 85.64 L495.68 83.44 L495.8 81.31 L495.92 79.78 L496.04 77.67 L496.16 75.62 L496.28 73.03 L496.4 71.47 L496.52 69.11 L496.64 66.8 L496.76 64.34 L496.88 61.2 L497 58.87 L497.12 56.23 L497.24 53.33 L497.36 49.99 L497.48 47.62 L497.6 44.53 L497.72 42.28 L497.84 45.31 L497.96 48.24 L498.08 50.76 L498.2 53.8 L498.32 56.52 L498.44 59.34 L498.56 61.94 L498.68 64.36 L498.8 67 L498.92 69.41 L499.04 72.01 L499.16 73.53 L499.28 75.54 L499.4 78.06 L499.52 79.34 L499.64 81.61 L499.76 83.69 L499.88 85.15 L500 86.82 L500.12 88.01 L500.24 90.02 L500.36 91.44 L500.48 92.45 L500.6 93.69 L500.72 95.65 L500.84 96.6 L500.96 97.63 L501.08 98.64 L501.2 99.57 L501.32 99.84 L501.44 101.16 L501.56 102.49 L501.68 103.07 L501.8 104.61 L501.92 104.58 L502.04 105.53 L502.16 106.02 L502.28 107.24 L502.4 108.26 L502.52 108.28 L502.64 108.98 L502.76 108.74 L502.88 110.25 L503 109.91 L503.12 110.6 L503.24 110.95 L503.36 110.44 L503.48 109.64 L503.6 111.16 L503.72 110.3 L503.84 111.49 L503.96 114.04 L504.08 112.44 L504.2 112.37 L504.32 115.85 L504.44 113.28 L504.56 111.82 L504.68 116 L504.8 114.44 L504.92 115.72 L505.04 113.72 L505.16 114.43 L505.28 114.15 L505.4 112.57 L505.52 115.11 L505.64 112.52 L505.76 116.78 L505.88 112.63 L506 114.35 L506.12 115.73 L506.24 115.91 L506.36 117.73 L506.48 115.12 L506.6 115.74 L506.72 115.28 L506.84 116.57 L506.96 111.39 L507.08 116.71 L507.2 113.58 L507.32 113.04 L507.44 112.44 L507.56 113.91 L507.68 115.57 L507.8 116.93 L507.92 114.97 L508.04 115.44 L508.16 116.79 L508.28 114.98 L508.4 113.58 L508.52 117.57 L508.64 115.26 L508.76 117.13 L508.88 114.09 L509 113.72 L509.12 111.98 L509.24 113.44 L509.36 113.56 L509.48 111.98 L509.6 110.13 L509.72 110.95 L509.84 111.47 L509.96 111.37 L510.08 112.77 L510.2 110.77 L510.32 109.98 L510.44 109.44 L510.56 106.99 L510.68 108.71 L510.8 107.01 L510.92 105.99 L511.04 105.16 L511.16 104.06 L511.28 103.67 L511.4 101.96 L511.52 101.23 L511.64 99.72 L511.76 98.44 L511.88 96.41 L512 94.57 L512.12 92.17 L512.24 90.48 L512.36 88.11 L512.48 85.51 L512.6 82.77 L512.72 79.64 L512.84 76.39 L512.96 72.83 L513.08 69.58 L513.2 66.05 L513.32 62.44 L513.44 57.37 L513.56 53.02 L513.68 47.85 L513.8 43.32 L513.92 37.58 L514.04 32.45 L514.16 27.01 L514.28 20.85 L514.4 24.19 L514.52 30.35 L514.64 36.16 L514.76 41.79 L514.88 46.61 L515 51.74 L515.12 56.12 L515.24 60.19 L515.36 64.43 L515.48 68.32 L515.6 72.55 L515.72 75.89 L515.84 78.99 L515.96 81.16 L516.08 84.16 L516.2 87.41 L516.32 89.97 L516.44 92.1 L516.56 94.39 L516.68 96.08 L516.8 97.45 L516.92 99.6 L517.04 100.91 L517.16 101.55 L517.28 103.33 L517.4 103.95 L517.52 105.56 L517.64 105.36 L517.76 105.96 L517.88 107.54 L518 107.55 L518.12 107.41 L518.24 109.64 L518.36 109.92 L518.48 112.14 L518.6 111.56 L518.72 112.99 L518.84 111.16 L518.96 112.51 L519.08 111.18 L519.2 111.58 L519.32 112.31 L519.44 112.81 L519.56 113.66 L519.68 117.49 L519.8 113.67 L519.92 113.52 L520.04 114.12 L520.16 116.03 L520.28 115.98 L520.4 114.21 L520.52 118.39 L520.64 115.4 L520.76 119.2 L520.88 115.13 L521 115.16 L521.12 111.64 L521.24 115.49 L521.36 113.7 L521.48 117.85 L521.6 113.55 L521.72 114.6 L521.84 113.41 L521.96 115.21 L522.08 115.21 L522.2 115.25 L522.32 113.38 L522.44 113.46 L522.56 116.62 L522.68 116.98 L522.8 115.46 L522.92 114.35 L523.04 117.36 L523.16 114.97 L523.28 115.73 L523.4 115.2 L523.52 115.95 L523.64 115.61 L523.76 113.92 L523.88 114.21 L524 115.84 L524.12 115.37 L524.24 114.43 L524.36 117.84 L524.48 115.96 L524.6 115.89 L524.72 116.32 L524.84 115.6 L524.96 114.53 L525.08 115.93 L525.2 112.18 L525.32 116.76 L525.44 114.43 L525.56 116.74 L525.68 112.87 L525.8 114.97 L525.92 115.69 L526.04 114 L526.16 113.59 L526.28 115.57 L526.4 118.45 L526.52 114.01 L526.64 119.07 L526.76 116.18 L526.88 120.39 L527 115.31 L527.12 114.89 L527.24 119.62 L527.36 118.25 L527.48 115.66 L527.6 116.76 L527.72 118.38 L527.84 115.45 L527.96 115.56 L528.08 115.2 L528.2 114.37 L528.32 114.73 L528.44 113.17 L528.56 117.23 L528.68 113.79 L528.8 115.73 L528.92 119.63 L529.04 118.42 L529.16 115.65 L529.28 118.35 L529.4 117.75 L529.52 113.95 L529.64 113.26 L529.76 117.98 L529.88 112.3 L530 116.69 L530.12 117.57 L530.24 118.44 L530.36 115.06 L530.48 118.86 L530.6 114.38 L530.72 116.69 L530.84 117.01 L530.96 114.99 L531.08 117.77 L531.2 115.57 L531.32 112.33 L531.44 116.64 L531.56 115.07 L531.68 115.06 L531.8 114.02 L531.92 116.6 L532.04 114.46 L532.16 117 L532.28 115.31 L532.4 119.57 L532.52 115.93 L532.64 118.4 L532.76 116.65 L532.88 114.61 L533 113.96 L533.12 114.85 L533.24 115.54 L533.36 112.4 L533.48 116.13 L533.6 116.39 L533.72 114.09 L533.84 114.47 L533.96 114.22 L534.08 114.52 L534.2 113.87 L534.32 114.58 L534.44 113.14 L534.56 116.98 L534.68 119.27 L534.8 116.89 L534.92 113.81 L535.04 118.67 L535.16 116.07 L535.28 117.71 L535.4 113.73 L535.52 117.25 L535.64 115.65 L535.76 115.91 L535.88 112.44 L536 116.92 L536.12 118.83 L536.24 116 L536.36 115.38 L536.48 115.87 L536.6 111.26 L536.72 114.7 L536.84 116.28 L536.96 117.01 L537.08 114.25 L537.2 115.23 L537.32 114.04 L537.44 118.37 L537.56 116.16 L537.68 114.53 L537.8 114.18 L537.92 112.66 L538.04 116.7 L538.16 116.19 L538.28 114.7 L538.4 114.81 L538.52 119.43 L538.64 115.12 L538.76 118.87 L538.88 115.09 L539 116.93 L539.12 115.83 L539.24 116.7 L539.36 114.02 L539.48 115.59 L539.6 119.08 L539.72 114.07 L539.84 114.14 L539.96 115.33 L540.08 113.85 L540.2 112.56 L540.32 117.76 L540.44 112.95 L540.56 113.79 L540.68 117.62 L540.8 116.22 L540.92 117.79 L541.04 112.72 L541.16 117.7 L541.28 112.88 L541.4 118.34 L541.52 113.68 L541.64 115.96 L541.76 117.08 L541.88 117.41 L542 119.43 L542.12 114.35 L542.24 114.83 L542.36 116.5 L542.48 119.7 L542.6 119.51 L542.72 118.44 L542.84 113.25 L542.96 114.85 L543.08 114.33 L543.2 117.16 L543.32 118.04 L543.44 119.47 L543.56 115.06 L543.68 118.2 L543.8 118.74 L543.92 116.95 L544.04 117.26 L544.16 115.99 L544.28 116.7 L544.4 117.05 L544.52 118.55 L544.64 115.57 L544.76 117.55 L544.88 115.3 L545 119.24 L545.12 113.28 L545.24 117.66 L545.36 118.45 L545.48 113.87 L545.6 116.08 L545.72 118 L545.84 117.1 L545.96 120.9 L546.08 120.65 L546.2 114.42 L546.32 113.7 L546.44 116.16 L546.56 117.46 L546.68 117.12 L546.8 117.45 L546.92 120.14 L547.04 114.47 L547.16 117.35 L547.28 113.77 L547.4 117.49 L547.52 116.79 L547.64 115.66 L547.76 114.87 L547.88 117.47 L548 117.11 L548.12 114.9 L548.24 116.06 L548.36 115.72 L548.48 115.5 L548.6 119.68 L548.72 116.55 L548.84 118.11 L548.96 112.55 L549.08 118.83 L549.2 117.69 L549.32 113.57 L549.44 115.59 L549.56 114.3 L549.68 114.18 L549.8 114.31 L549.92 112.47 L550.04 114.48 L550.16 116.48 L550.28 115.39 L550.4 113.01 L550.52 112.68 L550.64 117.89 L550.76 117.85 L550.88 115.46 L551 112.5 L551.12 114.15 L551.24 110.14 L551.36 117.81 L551.48 114.99 L551.6 114.56 L551.72 113.39 L551.84 114.55 L551.96 110.43 L552.08 114.57 L552.2 113.02 L552.32 113.71 L552.44 114.73 L552.56 116.4 L552.68 114.23 L552.8 115.28 L552.92 112.6 L553.04 109.8 L553.16 111.59 L553.28 110.5 L553.4 115.55 L553.52 112.83 L553.64 114.53 L553.76 111.4 L553.88 109.6 L554 108.97 L554.12 112.42 L554.24 111.29 L554.36 108.21 L554.48 110.06 L554.6 108.82 L554.72 110.36 L554.84 112.65 L554.96 111.75 L555.08 113.79 L555.2 108.18 L555.32 108.19 L555.44 109.81 L555.56 109.79 L555.68 109.51 L555.8 111.63 L555.92 112.53 L556.04 111.5 L556.16 110.83 L556.28 111.3 L556.4 111.45 L556.52 108.2 L556.64 110.58 L556.76 110.81 L556.88 110.31 L557 109.3 L557.12 110.74 L557.24 112.3 L557.36 112.51 L557.48 107.83 L557.6 109.17 L557.72 112.16 L557.84 109.71 L557.96 108.52 L558.08 110 L558.2 109.52 L558.32 111.35 L558.44 113.45 L558.56 109.68 L558.68 110.37 L558.8 109.46 L558.92 111.19 L559.04 109.29 L559.16 108.29 L559.28 111.45 L559.4 109.3 L559.52 109.61 L559.64 110.29 L559.76 105.51 L559.88 112.33 L560 106.85 L560.12 109.07 L560.24 112.06 L560.36 111.52 L560.48 108 L560.6 105.12 L560.72 110.9 L560.84 108.45 L560.96 108.2 L561.08 107.44 L561.2 108.71 L561.32 109.35 L561.44 109.49 L561.56 107.4 L561.68 109.46 L561.8 105.17 L561.92 107.49 L562.04 107.72 L562.16 107.39 L562.28 105.9 L562.4 107.52 L562.52 108.29 L562.64 109.48 L562.76 107.87 L562.88 107.91 L563 108.17 L563.12 110.33 L563.24 109.49 L563.36 107.81 L563.48 111.32 L563.6 109.41 L563.72 106.34 L563.84 109.12 L563.96 108.53 L564.08 111.78 L564.2 106.86 L564.32 109.21 L564.44 109.73 L564.56 104.91 L564.68 107.53 L564.8 104.52 L564.92 106.56 L565.04 103.62 L565.16 110.72 L565.28 107.63 L565.4 109.86 L565.52 106.93 L565.64 109.23 L565.76 105.63 L565.88 104.56 L566 108.17 L566.12 105.66 L566.24 106.73 L566.36 108.6 L566.48 105.54 L566.6 106.93 L566.72 108.23 L566.84 110.77 L566.96 109.39 L567.08 109.64 L567.2 103.18 L567.32 107.36 L567.44 106.96 L567.56 103.08 L567.68 107.13 L567.8 109.27 L567.92 106.99 L568.04 105.65 L568.16 108.1 L568.28 109.61 L568.4 106.09 L568.52 105.66 L568.64 108.3 L568.76 110.44 L568.88 103.69 L569 102.96 L569.12 102.96 L569.24 107.4 L569.36 105.91 L569.48 107.96 L569.6 104.97 L569.72 105.67 L569.84 103.74 L569.96 105.97 L570.08 107.43 L570.2 105.72 L570.32 106.87 L570.44 105.52 L570.56 105.85 L570.68 108.72 L570.8 107.38 L570.92 106.82 L571.04 106.72 L571.16 104.52 L571.28 105.45 L571.4 105.48 L571.52 106.37 L571.64 109.26 L571.76 106.79 L571.88 108.55 L572 109.42 L572.12 107.89 L572.24 108.78 L572.36 108.82 L572.48 106.18 L572.6 106.72 L572.72 107.25 L572.84 107.4 L572.96 106.55 L573.08 108.05 L573.2 106.91 L573.32 107.34 L573.44 106.9 L573.56 108.04 L573.68 110.87 L573.8 102.98 L573.92 103.9 L574.04 106.76 L574.16 108.49 L574.28 105.29 L574.4 110.11 L574.52 106.66 L574.64 107.72 L574.76 108.07 L574.88 106.28 L575 104.77 L575.12 106.13 L575.24 108.92 L575.36 108.85 L575.48 106.98 L575.6 107.8 L575.72 105.54 L575.84 104.94 L575.96 107.53 L576.08 107.09 L576.2 103.06 L576.32 107.44 L576.44 104.48 L576.56 108.47 L576.68 107.29 L576.8 109.97 L576.92 105.16 L577.04 106.29 L577.16 107.88 L577.28 104.54 L577.4 104.93 L577.52 105.06 L577.64 103.58 L577.76 105.53 L577.88 103.74 L578 107.27 L578.12 104.95 L578.24 105.91 L578.36 104.28 L578.48 107.55 L578.6 103.92 L578.72 106.62 L578.84 104.56 L578.96 106 L579.08 104.46 L579.2 106.3 L579.32 106.93 L579.44 102.29 L579.56 106.62 L579.68 104.56 L579.8 102.04 L579.92 104.96 L580.04 104.42 L580.16 102.32 L580.28 105.65 L580.4 105.13 L580.52 103.23 L580.64 102.72 L580.76 101.95 L580.88 103.29 L581 101.32 L581.12 100.94 L581.24 101.01 L581.36 100.01 L581.48 100.44 L581.6 100.1 L581.72 99.58 L581.84 99.44 L581.96 99.28 L582.08 98.33 L582.2 97.98 L582.32 98.29 L582.44 96.21 L582.56 95.32 L582.68 94.96 L582.8 94.35 L582.92 93.8 L583.04 92.38 L583.16 91.43 L583.28 90.46 L583.4 89.36 L583.52 88.72 L583.64 87.45 L583.76 86.16 L583.88 84.96 L584 84.01 L584.12 82.07 L584.24 80.76 L584.36 79.13 L584.48 77.8 L584.6 75.94 L584.72 73.93 L584.84 72.25 L584.96 70.67 L585.08 68.61 L585.2 67.36 L585.32 64.53 L585.44 63.14 L585.56 60.75 L585.68 58.72 L585.8 56.18 L585.92 53.32 L586.04 52.96 L586.16 55.55 L586.28 57.82 L586.4 60.32 L586.52 61.95 L586.64 64.5 L586.76 66.33 L586.88 68.33 L587 70.65 L587.12 72.38 L587.24 74.24 L587.36 75.96 L587.48 77.42 L587.6 79.08 L587.72 80.21 L587.84 81.69 L587.96 84.07 L588.08 85.12 L588.2 86.43 L588.32 87.88 L588.44 88.93 L588.56 90.24 L588.68 90.8 L588.8 92.05 L588.92 92.6 L589.04 94 L589.16 94.6 L589.28 95.48 L589.4 96.41 L589.52 96.19 L589.64 96.87 L589.76 98.2 L589.88 98.51 L590 99.16 L590.12 97.98 L590.24 101.19 L590.36 100.2 L590.48 102.49 L590.6 101.97 L590.72 102.19 L590.84 102.53 L590.96 102.78 L591.08 104.64 L591.2 102.06 L591.32 102.04 L591.44 103.42 L591.56 103.53 L591.68 103.74 L591.8 106.87 L591.92 106.07 L592.04 103.87 L592.16 103.43 L592.28 104.78 L592.4 104.68 L592.52 103.46 L592.64 103.32 L592.76 105.43 L592.88 105.01 L593 107.43 L593.12 105.51 L593.24 106.06 L593.36 107.44 L593.48 106.3 L593.6 105.17 L593.72 107.42 L593.84 108.87 L593.96 104.47 L594.08 107.18 L594.2 108.57 L594.32 105.49 L594.44 107.05 L594.56 105.9 L594.68 109.11 L594.8 103.2 L594.92 104.94 L595.04 106.74 L595.16 108.1 L595.28 106.75 L595.4 105.27 L595.52 108.82 L595.64 109.76 L595.76 107.8 L595.88 107.8 L596 107.78 L596.12 108.34 L596.24 107.06 L596.36 106.1 L596.48 108.55 L596.6 107.16 L596.72 106.92 L596.84 104.99 L596.96 107.03 L597.08 107.91 L597.2 105.67 L597.32 106.85 L597.44 106.95 L597.56 107.24 L597.68 107.86 L597.8 107.21 L597.92 108.31 L598.04 105.58 L598.16 104.22 L598.28 110.39 L598.4 107.23 L598.52 111.26 L598.64 108.21 L598.76 110.73 L598.88 107.98 L599 105.76 L599.12 105.33 L599.24 106.59 L599.36 105.41 L599.48 105.56 L599.6 107.11 L599.72 109.05 L599.84 109.19 L599.96 107.06 L600.08 105.66 L600.2 106.64 L600.32 108.83 L600.44 107.33 L600.56 111.07 L600.68 107.15 L600.8 106.28 L600.92 109.03 L601.04 107.2 L601.16 109.13 L601.28 109.49 L601.4 108.31 L601.52 107.98 L601.64 109.95 L601.76 109.19 L601.88 107.58 L602 106.31 L602.12 106.35 L602.24 108.79 L602.36 109.39 L602.48 105.26 L602.6 105.57 L602.72 104.02 L602.84 110.07 L602.96 105.36 L603.08 108.53 L603.2 111.2 L603.32 104.97 L603.44 109.45 L603.56 109.36 L603.68 109.87 L603.8 104.97 L603.92 103.59 L604.04 109.79 L604.16 106.51 L604.28 103.65 L604.4 108.65 L604.52 110.8 L604.64 106.04 L604.76 109.58 L604.88 106.35 L605 107.79 L605.12 108.15 L605.24 108.97 L605.36 106.87 L605.48 107.87 L605.6 108.48 L605.72 110.92 L605.84 109.4 L605.96 109.38 L606.08 111.32 L606.2 108.33 L606.32 109.56 L606.44 105.67 L606.56 109.56 L606.68 107.53 L606.8 108.33 L606.92 105.56 L607.04 108.16 L607.16 112.09 L607.28 108.47 L607.4 110.53 L607.52 109.03 L607.64 109.06 L607.76 108.78 L607.88 111.07 L608 110.04 L608.12 106.24 L608.24 107.02" fill="none" stroke="#ff0000" stroke-width="0.9" stroke-linejoin="round" />
<text transform="translate(498.5 39.3)" font-size="10.4" font-weight="normal" text-anchor="middle" fill="#1818b8"  stroke="#1818b8" stroke-width="0.3">D</text>
<text transform="translate(514.4 18.7)" font-size="10.4" font-weight="normal" text-anchor="middle" fill="#1818b8"  stroke="#1818b8" stroke-width="0.3">G</text>
<text transform="translate(586.6 48.8)" font-size="10.4" font-weight="normal" text-anchor="middle" fill="#1818b8"  stroke="#1818b8" stroke-width="0.3">2D</text>
<rect x="348.4" y="213.9" width="181.2" height="146.3" fill="none" stroke="#151515" stroke-width="1.1"/>
<line x1="346.2" y1="360.2" x2="348.4" y2="360.2" stroke="#151515" stroke-width="0.9"/>
<text transform="translate(343.6 362.6)" font-size="6.8" font-weight="bold" text-anchor="end" fill="#111"  stroke="#111" stroke-width="0.22">0</text>
<line x1="347.1" y1="351.06" x2="348.4" y2="351.06" stroke="#151515" stroke-width="0.8"/>
<line x1="346.2" y1="341.91" x2="348.4" y2="341.91" stroke="#151515" stroke-width="0.9"/>
<text transform="translate(343.6 344.31)" font-size="6.8" font-weight="bold" text-anchor="end" fill="#111"  stroke="#111" stroke-width="0.22">1</text>
<line x1="347.1" y1="332.77" x2="348.4" y2="332.77" stroke="#151515" stroke-width="0.8"/>
<line x1="346.2" y1="323.62" x2="348.4" y2="323.62" stroke="#151515" stroke-width="0.9"/>
<text transform="translate(343.6 326.02)" font-size="6.8" font-weight="bold" text-anchor="end" fill="#111"  stroke="#111" stroke-width="0.22">2</text>
<line x1="347.1" y1="314.48" x2="348.4" y2="314.48" stroke="#151515" stroke-width="0.8"/>
<line x1="346.2" y1="305.34" x2="348.4" y2="305.34" stroke="#151515" stroke-width="0.9"/>
<text transform="translate(343.6 307.74)" font-size="6.8" font-weight="bold" text-anchor="end" fill="#111"  stroke="#111" stroke-width="0.22">3</text>
<line x1="347.1" y1="296.19" x2="348.4" y2="296.19" stroke="#151515" stroke-width="0.8"/>
<line x1="346.2" y1="287.05" x2="348.4" y2="287.05" stroke="#151515" stroke-width="0.9"/>
<text transform="translate(343.6 289.45)" font-size="6.8" font-weight="bold" text-anchor="end" fill="#111"  stroke="#111" stroke-width="0.22">4</text>
<line x1="347.1" y1="277.91" x2="348.4" y2="277.91" stroke="#151515" stroke-width="0.8"/>
<line x1="346.2" y1="268.76" x2="348.4" y2="268.76" stroke="#151515" stroke-width="0.9"/>
<text transform="translate(343.6 271.16)" font-size="6.8" font-weight="bold" text-anchor="end" fill="#111"  stroke="#111" stroke-width="0.22">5</text>
<line x1="347.1" y1="259.62" x2="348.4" y2="259.62" stroke="#151515" stroke-width="0.8"/>
<line x1="346.2" y1="250.47" x2="348.4" y2="250.47" stroke="#151515" stroke-width="0.9"/>
<text transform="translate(343.6 252.88)" font-size="6.8" font-weight="bold" text-anchor="end" fill="#111"  stroke="#111" stroke-width="0.22">6</text>
<line x1="347.1" y1="241.33" x2="348.4" y2="241.33" stroke="#151515" stroke-width="0.8"/>
<line x1="346.2" y1="232.19" x2="348.4" y2="232.19" stroke="#151515" stroke-width="0.9"/>
<text transform="translate(343.6 234.59)" font-size="6.8" font-weight="bold" text-anchor="end" fill="#111"  stroke="#111" stroke-width="0.22">7</text>
<line x1="347.1" y1="223.04" x2="348.4" y2="223.04" stroke="#151515" stroke-width="0.8"/>
<line x1="346.2" y1="213.9" x2="348.4" y2="213.9" stroke="#151515" stroke-width="0.9"/>
<text transform="translate(343.6 216.3)" font-size="6.8" font-weight="bold" text-anchor="end" fill="#111"  stroke="#111" stroke-width="0.22">8</text>
<line x1="348.4" y1="360.2" x2="348.4" y2="362.4" stroke="#151515" stroke-width="0.9"/>
<text transform="translate(348.4 370.8) scale(1.06 1)" font-size="6.8" font-weight="bold" text-anchor="middle" fill="#111"  stroke="#111" stroke-width="0.22">0</text>
<line x1="356.27" y1="360.2" x2="356.27" y2="361.5" stroke="#151515" stroke-width="0.8"/>
<line x1="364.15" y1="360.2" x2="364.15" y2="362.4" stroke="#151515" stroke-width="0.9"/>
<text transform="translate(364.15 370.8) scale(1.06 1)" font-size="6.8" font-weight="bold" text-anchor="middle" fill="#111"  stroke="#111" stroke-width="0.22">20</text>
<line x1="372.02" y1="360.2" x2="372.02" y2="361.5" stroke="#151515" stroke-width="0.8"/>
<line x1="379.9" y1="360.2" x2="379.9" y2="362.4" stroke="#151515" stroke-width="0.9"/>
<text transform="translate(379.9 370.8) scale(1.06 1)" font-size="6.8" font-weight="bold" text-anchor="middle" fill="#111"  stroke="#111" stroke-width="0.22">40</text>
<line x1="387.77" y1="360.2" x2="387.77" y2="361.5" stroke="#151515" stroke-width="0.8"/>
<line x1="395.65" y1="360.2" x2="395.65" y2="362.4" stroke="#151515" stroke-width="0.9"/>
<text transform="translate(395.65 370.8) scale(1.06 1)" font-size="6.8" font-weight="bold" text-anchor="middle" fill="#111"  stroke="#111" stroke-width="0.22">60</text>
<line x1="403.52" y1="360.2" x2="403.52" y2="361.5" stroke="#151515" stroke-width="0.8"/>
<line x1="411.4" y1="360.2" x2="411.4" y2="362.4" stroke="#151515" stroke-width="0.9"/>
<text transform="translate(411.4 370.8) scale(1.06 1)" font-size="6.8" font-weight="bold" text-anchor="middle" fill="#111"  stroke="#111" stroke-width="0.22">80</text>
<line x1="419.27" y1="360.2" x2="419.27" y2="361.5" stroke="#151515" stroke-width="0.8"/>
<line x1="427.15" y1="360.2" x2="427.15" y2="362.4" stroke="#151515" stroke-width="0.9"/>
<text transform="translate(427.15 370.8) scale(1.06 1)" font-size="6.8" font-weight="bold" text-anchor="middle" fill="#111"  stroke="#111" stroke-width="0.22">100</text>
<line x1="435.02" y1="360.2" x2="435.02" y2="361.5" stroke="#151515" stroke-width="0.8"/>
<line x1="442.9" y1="360.2" x2="442.9" y2="362.4" stroke="#151515" stroke-width="0.9"/>
<text transform="translate(442.9 370.8) scale(1.06 1)" font-size="6.8" font-weight="bold" text-anchor="middle" fill="#111"  stroke="#111" stroke-width="0.22">120</text>
<line x1="450.77" y1="360.2" x2="450.77" y2="361.5" stroke="#151515" stroke-width="0.8"/>
<line x1="458.65" y1="360.2" x2="458.65" y2="362.4" stroke="#151515" stroke-width="0.9"/>
<text transform="translate(458.65 370.8) scale(1.06 1)" font-size="6.8" font-weight="bold" text-anchor="middle" fill="#111"  stroke="#111" stroke-width="0.22">140</text>
<line x1="466.52" y1="360.2" x2="466.52" y2="361.5" stroke="#151515" stroke-width="0.8"/>
<line x1="474.4" y1="360.2" x2="474.4" y2="362.4" stroke="#151515" stroke-width="0.9"/>
<text transform="translate(474.4 370.8) scale(1.06 1)" font-size="6.8" font-weight="bold" text-anchor="middle" fill="#111"  stroke="#111" stroke-width="0.22">160</text>
<line x1="482.27" y1="360.2" x2="482.27" y2="361.5" stroke="#151515" stroke-width="0.8"/>
<line x1="490.15" y1="360.2" x2="490.15" y2="362.4" stroke="#151515" stroke-width="0.9"/>
<text transform="translate(490.15 370.8) scale(1.06 1)" font-size="6.8" font-weight="bold" text-anchor="middle" fill="#111"  stroke="#111" stroke-width="0.22">180</text>
<line x1="498.02" y1="360.2" x2="498.02" y2="361.5" stroke="#151515" stroke-width="0.8"/>
<line x1="505.9" y1="360.2" x2="505.9" y2="362.4" stroke="#151515" stroke-width="0.9"/>
<text transform="translate(505.9 370.8) scale(1.06 1)" font-size="6.8" font-weight="bold" text-anchor="middle" fill="#111"  stroke="#111" stroke-width="0.22">200</text>
<line x1="513.77" y1="360.2" x2="513.77" y2="361.5" stroke="#151515" stroke-width="0.8"/>
<line x1="521.65" y1="360.2" x2="521.65" y2="362.4" stroke="#151515" stroke-width="0.9"/>
<text transform="translate(521.65 370.8) scale(1.06 1)" font-size="6.8" font-weight="bold" text-anchor="middle" fill="#111"  stroke="#111" stroke-width="0.22">220</text>
<line x1="529.52" y1="360.2" x2="529.52" y2="361.5" stroke="#151515" stroke-width="0.8"/>
<text transform="translate(439.2 384.4) scale(1.07 1)" font-size="7.7" font-weight="bold" text-anchor="middle" fill="#111"  stroke="#111" stroke-width="0.22">Strain (%)</text>
<text transform="translate(329.4 282.8) rotate(-90) scale(1.12 1)" font-size="7.5" font-weight="bold" text-anchor="middle" fill="#111"  stroke="#111" stroke-width="0.22">Tensile stress (MPa)</text>
<path d="M348.5 360.1 L348.78 359.71 L349.14 359.18 L349.58 358.56 L350.07 357.87 L350.58 357.14 L351.11 356.39 L351.62 355.67 L352.1 355 L352.56 354.35 L353.02 353.67 L353.48 352.98 L353.94 352.3 L354.41 351.64 L354.87 351.01 L355.34 350.42 L355.8 349.9 L356.25 349.45 L356.7 349.05 L357.13 348.71 L357.57 348.39 L358.02 348.1 L358.49 347.81 L358.98 347.52 L359.5 347.2 L360.02 346.88 L360.53 346.58 L361.04 346.29 L361.57 346 L362.16 345.7 L362.81 345.37 L363.55 345.01 L364.4 344.6 L365.38 344.15 L366.49 343.68 L367.69 343.18 L368.95 342.66 L370.25 342.1 L371.56 341.53 L372.85 340.93 L374.1 340.3 L375.27 339.66 L376.39 339.01 L377.48 338.33 L378.59 337.63 L379.74 336.9 L380.97 336.12 L382.31 335.29 L383.8 334.4 L385.4 333.46 L387.07 332.46 L388.82 331.43 L390.66 330.34 L392.62 329.22 L394.7 328.05 L396.92 326.84 L399.3 325.6 L401.92 324.27 L404.8 322.84 L407.87 321.34 L411.04 319.82 L414.23 318.3 L417.38 316.84 L420.39 315.46 L423.2 314.2 L425.79 313.08 L428.22 312.07 L430.56 311.14 L432.82 310.26 L435.07 309.4 L437.34 308.54 L439.67 307.65 L442.1 306.7 L444.66 305.69 L447.32 304.63 L450.04 303.56 L452.78 302.47 L455.5 301.4 L458.17 300.35 L460.75 299.35 L463.2 298.4 L465.54 297.5 L467.82 296.62 L470.03 295.77 L472.18 294.96 L474.26 294.18 L476.28 293.44 L478.22 292.74 L480.1 292.1 L481.95 291.5 L483.79 290.93 L485.59 290.41 L487.31 289.93 L488.92 289.49 L490.38 289.1 L491.65 288.77 L492.7 288.5 L493.49 288.29 L494.03 288.14 L494.38 288.05 L494.58 288.01 L494.69 288.01 L494.76 288.05 L494.85 288.11 L495 288.2 L495.18 288.36 L495.32 288.61 L495.43 288.92 L495.53 289.26 L495.61 289.57 L495.69 289.82 L495.79 289.98 L495.9 290 L496.02 289.86 L496.14 289.58 L496.26 289.2 L496.38 288.76 L496.51 288.31 L496.66 287.87 L496.82 287.49 L497 287.2 L497.14 287.01 L497.21 286.87 L497.26 286.77 L497.34 286.7 L497.51 286.64 L497.8 286.58 L498.28 286.51 L499 286.4 L500.05 286.26 L501.43 286.09 L503.03 285.91 L504.74 285.72 L506.47 285.55 L508.09 285.4 L509.5 285.28 L510.6 285.2 L511.39 285.16 L511.96 285.15 L512.38 285.17 L512.67 285.21 L512.88 285.27 L513.06 285.36 L513.25 285.47 L513.5 285.6 L513.78 285.78 L514.05 286.01 L514.3 286.29 L514.53 286.58 L514.74 286.86 L514.92 287.12 L515.08 287.34 L515.2 287.5 L516.3 292 L516.4 360.2" fill="none" stroke="#2a2a2a" stroke-width="1" stroke-linejoin="round" />
<path d="M348.5 360.1 L348.83 359.17 L349.27 357.93 L349.78 356.46 L350.36 354.83 L350.98 353.1 L351.6 351.35 L352.22 349.66 L352.8 348.1 L353.34 346.66 L353.87 345.26 L354.4 343.89 L354.93 342.52 L355.49 341.12 L356.07 339.66 L356.71 338.13 L357.4 336.5 L358.16 334.74 L358.96 332.88 L359.82 330.93 L360.71 328.93 L361.62 326.91 L362.54 324.9 L363.48 322.92 L364.4 321 L365.32 319.13 L366.26 317.28 L367.21 315.45 L368.16 313.62 L369.13 311.82 L370.11 310.03 L371.1 308.26 L372.1 306.5 L373.14 304.76 L374.22 303.05 L375.33 301.35 L376.44 299.67 L377.53 298 L378.59 296.33 L379.58 294.67 L380.5 293 L381.32 291.33 L382.05 289.65 L382.73 287.98 L383.36 286.31 L383.98 284.66 L384.62 283.02 L385.28 281.4 L386 279.8 L386.77 278.22 L387.57 276.65 L388.39 275.09 L389.23 273.54 L390.08 272.03 L390.92 270.54 L391.77 269.1 L392.6 267.7 L393.43 266.36 L394.25 265.1 L395.08 263.87 L395.91 262.68 L396.73 261.5 L397.56 260.3 L398.38 259.08 L399.2 257.8 L400.02 256.47 L400.83 255.1 L401.64 253.7 L402.45 252.29 L403.26 250.89 L404.07 249.49 L404.88 248.13 L405.7 246.8 L406.54 245.49 L407.42 244.16 L408.31 242.85 L409.2 241.56 L410.06 240.31 L410.88 239.12 L411.63 238.01 L412.3 237 L412.87 236.09 L413.36 235.27 L413.78 234.53 L414.16 233.84 L414.51 233.21 L414.85 232.62 L415.21 232.05 L415.6 231.5 L416.02 230.96 L416.45 230.46 L416.88 229.99 L417.31 229.55 L417.73 229.15 L418.14 228.79 L418.53 228.47 L418.9 228.2 L419.25 227.98 L419.58 227.81 L419.9 227.68 L420.21 227.59 L420.5 227.54 L420.78 227.51 L421.04 227.5 L421.3 227.5 L421.55 227.53 L421.79 227.61 L422.03 227.73 L422.25 227.86 L422.45 227.99 L422.63 228.12 L422.78 228.23 L422.9 228.3 L423.7 230 L423.8 360.2" fill="none" stroke="#ff1a1a" stroke-width="0.95" stroke-linejoin="round" />
<circle cx="380.8" cy="292.8" r="0.9" fill="#ff2020"/>
<rect x="447.3" y="225.3" width="75.7" height="20.2" fill="none" stroke="#333" stroke-width="0.9"/>
<line x1="448.1" y1="230.6" x2="465.6" y2="230.6" stroke="#555" stroke-width="0.8"/>
<line x1="448.1" y1="239.8" x2="465.6" y2="239.8" stroke="#ff2020" stroke-width="0.8"/>
<text transform="translate(467.7 233.2) scale(1.01 1)" font-size="7.3" font-weight="bold" text-anchor="start" fill="#111"  stroke="#111" stroke-width="0.22">8% PU</text>
<text transform="translate(467.7 242.4) scale(1.01 1)" font-size="7.3" font-weight="bold" text-anchor="start" fill="#111"  stroke="#111" stroke-width="0.22">8% PU/5% &#949;-PL</text>
<text transform="translate(0.3 15)" font-size="19.5" font-weight="bold" text-anchor="start" fill="#111"  stroke="#111" stroke-width="0.22">a</text>
<text transform="translate(211.3 15)" font-size="19.5" font-weight="bold" text-anchor="start" fill="#111"  stroke="#111" stroke-width="0.22">b</text>
<text transform="translate(419.8 14.5)" font-size="19.5" font-weight="bold" text-anchor="start" fill="#111"  stroke="#111" stroke-width="0.22">c</text>
<text transform="translate(106.3 199.6)" font-size="19.5" font-weight="bold" text-anchor="start" fill="#111"  stroke="#111" stroke-width="0.22">d</text>
<text transform="translate(315.4 199.6)" font-size="19.5" font-weight="bold" text-anchor="start" fill="#111"  stroke="#111" stroke-width="0.22">e</text>
<text transform="translate(163.8 197) scale(1.04 1)" font-size="10.6" font-weight="bold" text-anchor="middle" fill="#111"  stroke="#111" stroke-width="0.22">Initial</text>
<text transform="translate(240.4 197) scale(1.04 1)" font-size="10.6" font-weight="bold" text-anchor="middle" fill="#111"  stroke="#111" stroke-width="0.22">Final</text>
<text transform="translate(124.4 251.9)" font-size="11" font-weight="bold" text-anchor="end" fill="#111"  stroke="#111" stroke-width="0.22">8% PU</text>
<text transform="translate(124.8 343.5) scale(1.02 1)" font-size="11" font-weight="bold" text-anchor="end" fill="#111"  stroke="#111" stroke-width="0.22">8% PU/5% &#949;-PL</text>
</svg>
</body></html>
